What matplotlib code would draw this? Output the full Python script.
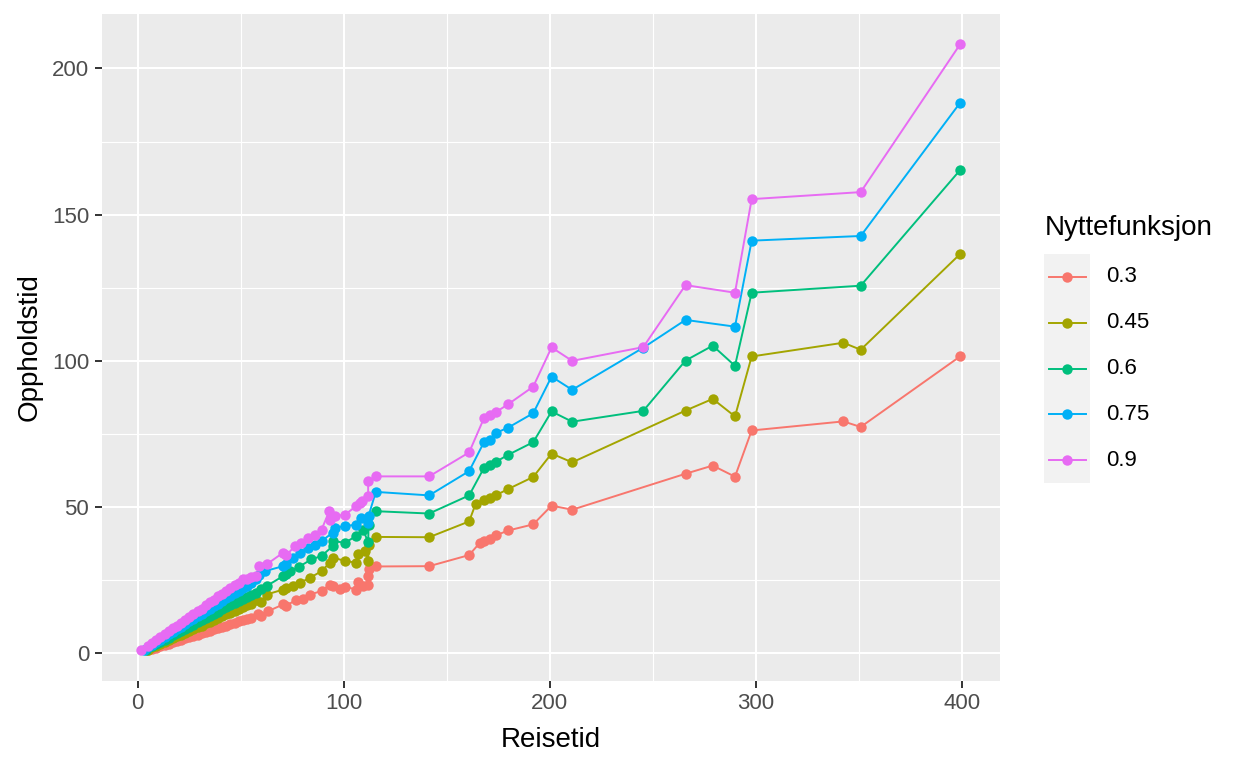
import numpy as np
import matplotlib.pyplot as plt

# (Reisetid, Oppholdstid) pairs per utility-function level
s_030 = [(5, 1.0), (7, 1.5), (9, 1.9), (11, 2.4), (13, 2.8), (15, 3.3), (17, 3.8), (19, 4.2),
         (21, 4.7), (23, 5.1), (25, 5.6), (27, 6.0), (29, 6.3), (31, 6.9), (33, 7.3), (35, 7.8),
         (37, 8.2), (39, 8.7), (41, 9.1), (43, 9.5), (45, 10.0), (47, 10.4), (49, 10.9), (51, 11.3),
         (53, 11.8), (55, 12.2), (58.3, 13.3), (60, 12.8), (63.2, 14.4), (70.5, 16.7), (72, 16.2),
         (77, 18.4), (80, 18.6), (83.5, 20.1), (89.2, 21.3), (93.2, 23.5), (94.9, 23.0), (98, 22.0),
         (100.5, 22.8), (106, 21.8), (107, 24.5), (109.3, 23.0), (111.8, 23.5), (111.8, 26.4),
         (112, 28.7), (115.5, 29.7), (141.4, 29.8), (160.8, 33.6), (166, 37.8), (168, 38.4),
         (170.9, 39.0), (173.6, 40.3), (179.8, 42.0), (191.9, 44.1), (200.8, 50.5), (210.8, 49.1),
         (265.8, 61.4), (279, 64.2), (289.8, 60.4), (297.9, 76.2), (342.4, 79.3), (350.8, 77.4),
         (399, 101.5)]

s_045 = [(5, 1.2), (7, 2.0), (9, 2.6), (11, 3.3), (13, 3.9), (15, 4.5), (17, 5.2), (19, 5.8),
         (21, 6.4), (23, 7.0), (25, 7.7), (27, 8.3), (29, 8.9), (31, 9.5), (33, 10.2), (35, 10.8),
         (37, 11.4), (39, 12.0), (41, 12.7), (43, 13.3), (45, 13.9), (47, 14.5), (49, 15.1),
         (51, 15.8), (53, 16.4), (55, 17.0), (57.6, 18.4), (60, 17.6), (62.5, 20.1), (70.5, 21.8),
         (72, 22.5), (75.4, 23.0), (78.6, 24.1), (83.5, 25.8), (89.2, 28.1), (93.2, 31.0),
         (94.9, 32.7), (100.5, 31.6), (106, 31.0), (107, 33.8), (110.2, 35.0), (111.8, 31.5),
         (112, 37.0), (115.5, 39.8), (141.4, 39.7), (160.8, 45.1), (164, 51.2), (168, 52.3),
         (170.9, 53.1), (173.6, 54.0), (179.8, 56.2), (191.9, 60.3), (200.8, 68.3), (210.8, 65.3),
         (265.8, 83.0), (279, 87.0), (289.8, 81.0), (297.9, 101.5), (342.4, 106.2), (350.8, 103.8),
         (399, 136.5)]

s_060 = [(4, 1.2), (7, 2.5), (9, 3.2), (11, 4.0), (13, 4.7), (15, 5.4), (17, 6.2), (19, 6.9),
         (21, 7.6), (23, 8.4), (25, 9.1), (27, 9.8), (29, 10.6), (31, 11.3), (33, 12.0), (35, 12.8),
         (37, 13.5), (39, 14.3), (41, 15.0), (43, 15.7), (45, 16.5), (47, 17.3), (49, 18.0),
         (51, 18.6), (53, 19.4), (55, 20.0), (57.6, 20.7), (60, 22.0), (62.5, 23.0), (70.5, 26.4),
         (72, 27.0), (73.8, 28.1), (78, 29.5), (84.2, 32.1), (89.2, 33.3), (94.5, 36.6),
         (94.9, 38.4), (100.5, 37.8), (106, 40.1), (109.3, 42.3), (111.8, 38.0), (112, 44.0),
         (115.5, 48.6), (141.4, 47.8), (160.8, 54.0), (168, 63.4), (170.9, 64.5), (173.6, 65.4),
         (179.8, 67.9), (191.9, 72.2), (200.8, 82.7), (210.8, 79.2), (245.3, 82.9), (265.8, 100.1),
         (279, 105.2), (289.8, 98.3), (297.9, 123.3), (350.8, 125.7), (399, 165.2)]

s_075 = [(3, 1.2), (5, 2.0), (7, 2.9), (9, 3.8), (11, 4.7), (13, 5.6), (15, 6.5), (17, 7.4),
         (19, 8.2), (21, 9.1), (23, 10.0), (25, 10.9), (27, 11.7), (29, 12.6), (31, 13.5),
         (33, 14.4), (35, 15.3), (37, 16.1), (39, 17.0), (41, 17.9), (43, 18.8), (45, 19.6),
         (47, 20.6), (49, 21.4), (51, 22.2), (53, 23.1), (55, 24.0), (57.6, 25.3), (59, 26.8),
         (61.7, 28.1), (70.5, 29.8), (72, 30.5), (75.4, 32.7), (78.6, 34.4), (82.7, 36.1),
         (86, 37.0), (89.2, 38.4), (94.5, 41.2), (95.6, 42.9), (100.5, 43.5), (106, 44.0),
         (108.5, 46.3), (111.8, 44.5), (112, 47.0), (115.5, 55.2), (141.4, 54.0), (160.8, 62.3),
         (168, 72.2), (170.9, 73.0), (173.6, 75.3), (179.8, 77.2), (191.9, 82.1), (200.8, 94.6),
         (210.8, 90.1), (245.3, 104.5), (265.8, 114.0), (289.8, 111.7), (297.9, 141.1),
         (350.8, 142.7), (399, 188.2)]

s_090 = [(1.5, 1.2), (5, 2.5), (7, 3.5), (9, 4.5), (11, 5.5), (13, 6.6), (15, 7.5), (17, 8.6),
         (19, 9.4), (21, 10.5), (23, 11.4), (25, 12.4), (27, 13.5), (29, 14.4), (31, 15.3),
         (33, 16.5), (35, 17.6), (37, 18.3), (39, 19.5), (41, 20.4), (43, 21.2), (45, 22.3),
         (47, 23.5), (49, 24.2), (51, 25.3), (53, 25.5), (55, 26.0), (57.6, 26.4), (58.9, 29.8),
         (62.5, 30.4), (70.5, 34.4), (72, 33.5), (76.2, 36.6), (79.4, 37.8), (82.7, 39.5),
         (86, 40.5), (89.2, 42.3), (92.9, 48.6), (93.2, 45.7), (95.6, 46.9), (100.5, 47.4),
         (106, 50.3), (107.8, 51.5), (108.6, 52.0), (111.8, 53.7), (111.8, 58.8), (115.8, 60.5),
         (141.4, 60.5), (160.8, 68.7), (168, 80.4), (170.9, 81.6), (173.6, 82.4), (179.8, 85.2),
         (191.9, 91.2), (200.8, 104.6), (210.8, 100.0), (245.3, 104.7), (265.8, 125.9),
         (289.8, 123.3), (297.9, 155.3), (350.8, 157.7), (399, 208.2)]

levels = ["0.3", "0.45", "0.6", "0.75", "0.9"]
series = [s_030, s_045, s_060, s_075, s_090]
colors = ["#F8766D", "#A3A500", "#00BF7D", "#00B0F6", "#E76BF3"]

W, H = 1248, 768
plt.rcParams['font.family'] = ['Liberation Sans', 'DejaVu Sans']

fig = plt.figure(figsize=(W / 100, H / 100), dpi=100)
fig.patch.set_facecolor("white")


def px(x, y):
    return x / W, 1 - y / H


left, top, right, bottom = 101.7, 14, 1000, 680.7
ax = fig.add_axes([left / W, 1 - bottom / H, (right - left) / W, (bottom - top) / H])
ax.set_facecolor("#EBEBEB")
for s in ax.spines.values():
    s.set_visible(False)

for v in [50, 150, 250, 350]:
    ax.axvline(v, color="white", lw=0.8, zorder=0)
for v in [25, 75, 125, 175]:
    ax.axhline(v, color="white", lw=0.8, zorder=0)
for v in [0, 100, 200, 300, 400]:
    ax.axvline(v, color="white", lw=1.5, zorder=0)
for v in [0, 50, 100, 150, 200]:
    ax.axhline(v, color="white", lw=1.5, zorder=0)

data = []
for s in series:
    arr = np.array(s, dtype=float)
    order = np.argsort(arr[:, 0], kind="stable")
    data.append(arr[order])

for arr, c in zip(data, colors):
    ax.plot(arr[:, 0], arr[:, 1], color=c, lw=1.4, zorder=2)
for arr, c in zip(data, colors):
    ax.plot(arr[:, 0], arr[:, 1], ls="none", marker="o", ms=7.5, color=c, mec=c, mew=0, zorder=3)

ax.set_xlim(-17.5, 418.4)
ax.set_ylim(-9.36, 218.6)
ax.set_xticks([0, 100, 200, 300, 400])
ax.set_yticks([0, 50, 100, 150, 200])
ax.tick_params(length=5, width=1.4, color="#333333", labelcolor="#4D4D4D", labelsize=16, pad=4)

fig.text(*px((left + right) / 2, 740), "Reisetid", fontsize=20, ha="center", va="center")
fig.text(*px(30, (top + bottom) / 2), "Oppholdstid", fontsize=20, ha="center", va="center",
         rotation=90)

# legend
fig.text(*px(1045, 228), "Nyttefunksjon", fontsize=20, ha="left", va="center")
lx0, lx1, ly0, ly1 = 1044, 1090, 254, 483
lax = fig.add_axes([lx0 / W, 1 - ly1 / H, (lx1 - lx0) / W, (ly1 - ly0) / H])
lax.set_facecolor("#F2F2F2")
lax.set_xlim(0, 1)
lax.set_ylim(len(levels), 0)
lax.set_xticks([])
lax.set_yticks([])
for s in lax.spines.values():
    s.set_visible(False)
for i, (lab, c) in enumerate(zip(levels, colors)):
    lax.plot([0.11, 0.91], [i + 0.5, i + 0.5], color=c, lw=1.4)
    lax.plot([0.5], [i + 0.5], marker="o", ms=7.5, color=c, mew=0)
    fig.text(*px(1106, ly0 + (i + 0.5) * (ly1 - ly0) / len(levels)), lab, fontsize=16,
             ha="left", va="center", color="black")

fig.savefig("out.png", dpi=100)
